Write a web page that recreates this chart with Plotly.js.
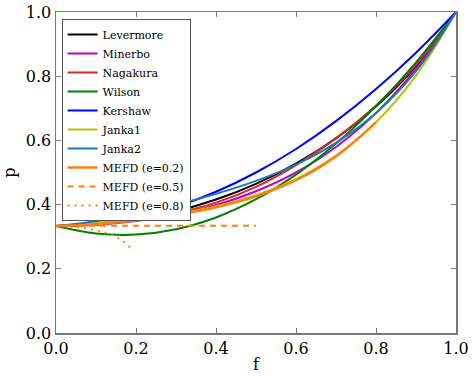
<!DOCTYPE html>
<html>
<head>
<meta charset="utf-8">
<script src="https://cdn.plot.ly/plotly-3.0.1.min.js"></script>
<style>html,body{margin:0;padding:0;background:#fff;}#chart{width:474px;height:377px;}</style>
</head>
<body>
<div id="chart"></div>
<script>
// flux factor grid
const fGrid = [0.0, 0.1, 0.2, 0.3, 0.4, 0.5, 0.6, 0.7, 0.8, 0.9, 1.0];
// Eddington factor readings
const levermore = [0.3333, 0.3383, 0.3535, 0.3791, 0.4159, 0.4648, 0.5275, 0.6063, 0.7052, 0.8313, 1.0];
const minerbo   = [0.3333, 0.3372, 0.3489, 0.3690, 0.3990, 0.4417, 0.5004, 0.5796, 0.6849, 0.8226, 1.0];
const nagakura  = [0.3333, 0.3380, 0.3520, 0.3730, 0.4060, 0.4550, 0.5230, 0.6070, 0.7090, 0.8350, 1.0];
const wilson    = [0.3333, 0.3100, 0.3067, 0.3233, 0.3600, 0.4167, 0.4933, 0.5900, 0.7067, 0.8433, 1.0];
const kershaw   = [0.3333, 0.3400, 0.3600, 0.3933, 0.4400, 0.5000, 0.5733, 0.6600, 0.7600, 0.8733, 1.0];
const janka1    = [0.3333, 0.3416, 0.3543, 0.3714, 0.3950, 0.4292, 0.4794, 0.5524, 0.6566, 0.8020, 1.0];
const janka2    = [0.3333, 0.3484, 0.3717, 0.4000, 0.4334, 0.4738, 0.5248, 0.5924, 0.6854, 0.8159, 1.0];
const fMefd02   = [0.0, 0.1, 0.2, 0.3, 0.4, 0.5, 0.6, 0.7, 0.8];
const mefd02    = [0.3333, 0.3390, 0.3510, 0.3680, 0.3920, 0.4260, 0.4760, 0.5500, 0.6560];
const fMefd05   = [0.0, 0.5];
const mefd05    = [0.3340, 0.3340];
const fMefd08   = [0.0, 0.05, 0.102, 0.127, 0.149, 0.170, 0.189];
const mefd08    = [0.3333, 0.3300, 0.3190, 0.3110, 0.3000, 0.2830, 0.2620];
const tickVals  = [0.0, 0.2, 0.4, 0.6, 0.8, 1.0];

const mk = (x, y, name, color, dash, w) => ({
  x: x, y: y, name: name, type: 'scatter', mode: 'lines',
  line: {color: color, width: w || 2, dash: dash || 'solid', shape: 'spline', smoothing: 1}
});

const traces = [
  mk(fGrid, levermore, 'Levermore', '#000000'),
  mk(fGrid, minerbo, 'Minerbo', '#bf00bf'),
  mk(fGrid, nagakura, 'Nagakura', '#d62728'),
  mk(fGrid, wilson, 'Wilson', '#008000'),
  mk(fGrid, kershaw, 'Kershaw', '#0000ff'),
  mk(fGrid, janka1, 'Janka1', '#bfbf00'),
  mk(fGrid, janka2, 'Janka2', '#1f77b4'),
  mk(fMefd02, mefd02, 'MEFD (e=0.2)', '#ff7f0e', 'solid', 2.5),
  mk(fMefd05, mefd05, 'MEFD (e=0.5)', '#ff7f0e', '6px,5px', 2),
  mk(fMefd08, mefd08, 'MEFD (e=0.8)', '#ff7f0e', '2px,5px', 2)
];

const axisCommon = {
  range: [0, 1], tickvals: tickVals, ticktext: tickVals.map(v => v.toFixed(1)),
  ticks: 'inside', ticklen: 5, tickwidth: 1, tickcolor: '#777',
  showline: true, linecolor: '#777', linewidth: 1.5, mirror: 'ticks',
  showgrid: false, zeroline: false,
  tickfont: {family: 'DejaVu Serif', size: 16, color: '#000'}
};

const layout = {
  width: 474, height: 377,
  margin: {l: 56, r: 18, t: 12, b: 44},
  paper_bgcolor: '#fff', plot_bgcolor: '#fff',
  font: {family: 'DejaVu Serif', color: '#000'},
  xaxis: Object.assign({}, axisCommon, {
    title: {text: 'f', font: {family: 'DejaVu Serif', size: 16}, standoff: 2}
  }),
  yaxis: Object.assign({}, axisCommon, {
    title: {text: 'p', font: {family: 'DejaVu Serif', size: 16}, standoff: 6}
  }),
  showlegend: true,
  legend: {
    x: 0.014, y: 0.978, xanchor: 'left', yanchor: 'top',
    bgcolor: '#fff', bordercolor: '#555', borderwidth: 1,
    font: {family: 'DejaVu Serif', size: 11, color: '#000'},
    tracegroupgap: 0, itemwidth: 30
  }
};

Plotly.newPlot('chart', traces, layout, {displayModeBar: false, staticPlot: true});
</script>
</body>
</html>
